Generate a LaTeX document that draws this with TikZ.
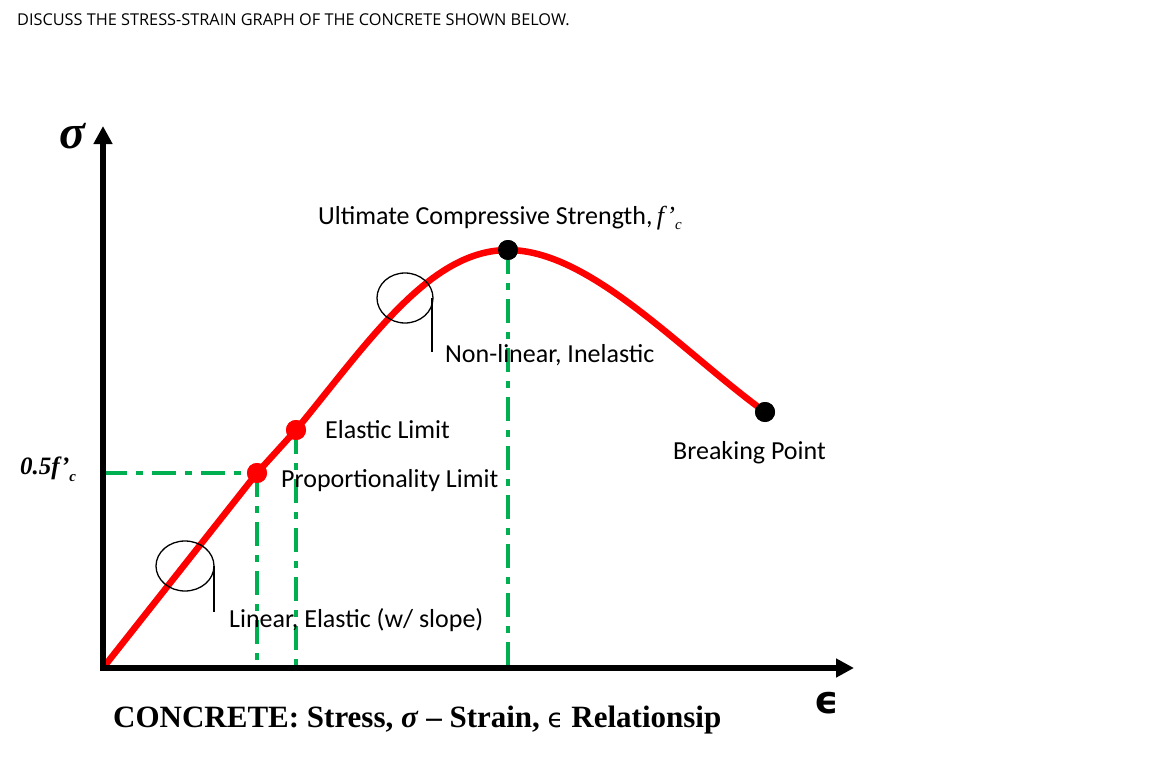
\documentclass[tikz,border=0pt]{standalone}
\usepackage{fontspec}
\usetikzlibrary{arrows.meta}
\setmainfont{Carlito}
\newfontfamily\titlefont{Open Sans}
\newfontfamily\serifb{Liberation Serif}
\newfontfamily\dejav{DejaVu Sans}
\begin{document}
\begin{tikzpicture}[x=1pt,y=-1pt,
  lbl/.style={anchor=west,font=\fontsize{26}{28}\selectfont,inner sep=0},
  guide/.style={draw={rgb,255:red,0;green,176;blue,80},line width=4pt,dash pattern=on 24pt off 9pt on 7pt off 9pt},
  axis/.style={line width=6pt,-{Triangle[length=18pt,width=18pt]}},
  dotr/.style={circle,fill=red,minimum size=20pt,inner sep=0},
  dotk/.style={circle,fill=black,minimum size=20pt,inner sep=0}]
\useasboundingbox (0,0) rectangle (1152,760);
\coordinate (O) at (103,668);
\coordinate (ytop) at (103,126);
\coordinate (xend) at (854,668);
\node[dotr] (PL) at (257,473) {};
\node[dotr] (EL) at (296,430) {};
\node[dotk] (UC) at (508,250) {};
\node[dotk] (BP) at (765,412) {};
\coordinate (PLy) at (103,473);
\coordinate (PLb) at (257,668);
\coordinate (ELb) at (296,668);
\coordinate (UCb) at (508,668);
\draw[guide] (PLy) -- (PL.center);
\draw[guide] (PL.center) -- (PLb);
\draw[guide] (EL.center) -- (ELb);
\draw[guide] (UC.center) -- (UCb);
\draw[red,line width=6.5pt] (O) -- (PL.center) -- (EL.center) .. controls (370,340) and (430,250) .. (UC.center) .. controls (590,250) and (680,350) .. (BP.center);
\node[dotr] at (PL) {};
\node[dotr] at (EL) {};
\node[dotk] at (UC) {};
\node[dotk] at (BP) {};
\draw[axis] (O) -- (ytop);
\draw[axis] ([xshift=-3pt]O) -- (xend);
\draw[line width=1.3pt] (185,566) ellipse (29pt and 25pt);
\coordinate (t1a) at (214,566); \coordinate (t1b) at (214,612);
\draw[line width=1.3pt] (t1a) -- (t1b);
\draw[line width=1.3pt] (405,298) ellipse (28pt and 25pt);
\coordinate (t2a) at (432,298); \coordinate (t2b) at (432,352);
\draw[line width=1.3pt] (t2a) -- (t2b);
\node[lbl] (uct) at (318,218) {Ultimate Compressive Strength,\,{\serifb\itshape f\textquoteright}{\serifb\itshape\fontsize{15}{15}\selectfont\raisebox{-5pt}{c}}};
\node[lbl] (nli) at (445,355) {Non-linear, Inelastic};
\node[lbl] (elt) at (325,430) {Elastic Limit};
\node[lbl] (plt) at (281,481) {Proportionality Limit};
\node[lbl] (bpt) at (673,453) {Breaking Point};
\node[lbl] (let) at (229,620) {Linear, Elastic (w/ slope)};
\node[anchor=west,inner sep=0,font=\serifb\bfseries\itshape\fontsize{25}{26}\selectfont] (half) at (20,469) {0.5f\textquoteright\raisebox{-7pt}{\fontsize{15}{15}\selectfont c}};
\node[inner sep=0,font=\serifb\bfseries\itshape\fontsize{48}{48}\selectfont] (sig) at (72,136) {σ};
\node[inner sep=0,font=\dejav\bfseries\fontsize{38}{38}\selectfont] (eps) at (827,703) {ϵ};
\node[anchor=west,inner sep=0,font=\serifb\bfseries\fontsize{31}{33}\selectfont] (cap) at (113,720) {CONCRETE: Stress, \textit{σ} – Strain, {\dejav\mdseries\fontsize{26}{26}\selectfont ϵ} Relationsip};
\node[anchor=west,inner sep=0,font=\titlefont\fontsize{16.3}{18}\selectfont] (title) at (17,20) {DISCUSS THE STRESS-STRAIN GRAPH OF THE CONCRETE SHOWN BELOW.};
\end{tikzpicture}
\end{document}
